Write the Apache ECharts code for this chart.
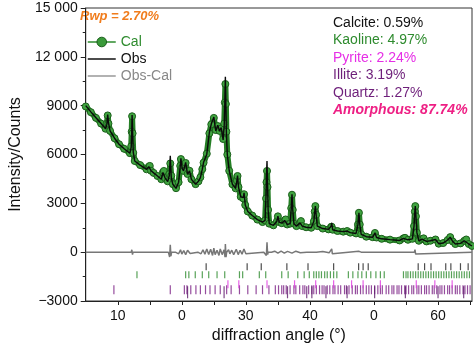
<!DOCTYPE html>
<html><head><meta charset="utf-8">
<script src="https://cdn.jsdelivr.net/npm/echarts@6/dist/echarts.min.js"></script>
<style>html,body{margin:0;padding:0;background:#fff}#c{width:474px;height:351px}</style>
</head><body><div id="c"></div>
<script>
// ---- data ----
const angles = [5.0,5.8,6.6,7.4,8.1,8.3,8.43,8.55,8.8,9.5,10.2,11.0,11.9,12.1,12.18,12.24,12.32,12.42,12.65,13.5,14.5,14.85,15.0,15.2,15.6,16.2,16.8,17.05,17.2,17.4,17.8,18.05,18.2,18.35,18.6,19.1,19.5,19.75,19.86,20.05,20.27,20.6,20.9,21.2,21.5,22.15,22.6,22.9,23.2,23.4,23.9,24.3,24.6,25.0,25.3,25.6,25.9,26.15,26.45,26.62,26.72,26.8,26.88,26.96,27.1,27.4,27.9,28.4,28.6,28.7,28.85,29.2,29.6,29.72,29.9,30.3,31.0,31.8,32.6,33.0,33.15,33.22,33.3,33.38,33.47,33.65,34.3,34.85,35.0,35.2,35.6,36.05,36.2,36.45,36.9,37.08,37.2,37.32,37.5,37.9,38.45,38.6,38.8,39.4,40.2,40.62,40.75,40.85,40.97,41.15,42.0,42.9,43.3,43.4,43.55,44.3,45.2,45.8,46.3,47.2,47.5,47.65,47.78,48.0,48.8,49.8,50.15,50.4,51.2,52.5,54.0,54.6,54.85,55.3,56.0,56.25,56.38,56.45,56.55,56.7,57.0,57.5,57.75,58.2,58.8,59.6,60.1,60.8,61.5,61.9,62.3,62.7,63.5,64.1,64.4,64.8,65.3];
const calValues = [8950,8600,8250,7900,7580,7900,8400,7900,7450,7000,6630,6350,6080,6500,7400,8350,7300,6100,5600,5350,5090,5250,5300,5000,4870,4680,4480,4900,4990,4550,4350,4800,5450,4700,4180,3930,4300,5300,5720,5200,4990,5480,4800,5000,4480,4180,4350,4600,5100,5500,6050,7300,7850,8250,7500,7750,7450,7600,6950,7900,9200,10330,9100,7400,6000,5000,4170,3920,4400,4680,4000,3400,3300,3560,2900,2500,2250,2000,1850,1950,3300,4300,4990,4000,2600,1750,1650,1900,2200,1850,1780,1950,2010,1700,1750,2700,3530,2600,1750,1600,1800,1910,1600,1530,1500,1900,2500,2830,2300,1600,1450,1400,1550,1560,1380,1300,1260,1300,1200,1150,1700,2420,1700,1100,950,920,1180,900,820,770,720,850,880,760,820,1600,2500,2830,2200,1200,700,800,850,660,700,780,520,560,750,925,650,500,540,700,780,500,380];
const obsValues = [9000,8620,8260,7900,7580,7850,8450,7950,7450,7000,6630,6350,6080,6450,7350,8420,7400,6150,5600,5350,5090,5250,5320,5000,4870,4680,4480,4900,5000,4550,4330,4700,5920,4600,4170,3920,4300,5250,5760,5150,5000,5520,4780,5000,4470,4170,4360,4580,5100,5520,6020,7350,7870,8300,7450,7800,7450,7650,6900,7800,9300,10780,9000,7300,6000,5000,4170,3920,4400,4700,4000,3400,3350,3650,2900,2500,2250,2000,1850,1950,3500,4800,5600,4300,2600,1750,1650,1900,2220,1850,1780,1950,2010,1700,1750,2650,3550,2600,1750,1600,1800,1910,1600,1530,1500,1900,2500,2830,2300,1600,1450,1400,1600,1800,1380,1300,1260,1300,1200,1150,1700,2420,1700,1100,950,920,1190,900,820,770,720,850,880,760,820,1600,2520,2830,2200,1200,700,800,850,660,700,780,520,560,750,925,650,500,540,700,780,500,380];
const diffAngles = [5,8.3,8.4,8.5,8.6,12.1,12.2,12.3,12.4,15,15.1,15.2,15.3,17.9,18.1,18.2,18.3,18.4,19.0,19.3,19.5,19.8,20.0,20.3,20.6,20.9,21.3,21.6,22.5,22.8,23.0,23.3,23.6,23.9,24.2,24.5,24.8,25.0,25.2,25.5,25.8,26.0,26.3,26.6,26.75,26.8,26.9,27.0,27.3,27.5,27.8,28.1,28.5,28.8,29.1,29.4,29.7,30.0,30.3,32.8,33.2,33.3,33.4,33.5,34.0,34.5,35.0,35.5,36.0,36.5,37.2,37.8,38.5,39.5,41,42,43,43.4,43.5,43.7,46,47.6,47.7,48,56.3,56.4,56.5,56.6,65.3];
const diffValues = [0,0,120,-100,0,0,150,-150,0,0,80,-60,0,0,-300,450,-250,0,0,120,-100,150,-120,100,-150,120,-80,0,0,120,-100,150,-120,200,-150,180,-200,250,-150,120,-200,200,-150,150,-300,500,-300,0,150,-100,120,-150,180,-150,120,-120,200,-100,0,0,-200,600,-150,0,0,60,-60,60,-60,50,-60,60,-40,0,0,40,-40,200,-100,0,0,60,-60,0,0,150,-120,0,0];
const calciteTicks = [23.8,30.2,32.4,36.4,39.7,43.7,47.6,48.3,49.1,56.9,57.9,58.9,61.2,62.0,63.5,64.7];
const kaolineTicks = [13.0,20.6,21.1,22.1,23.2,24.2,25.5,26.7,29.0,29.5,32.1,33.1,35.6,36.6,38.1,39.1,39.9,40.6,41.0,41.4,41.8,42.3,42.7,43.2,43.7,44.2,46.0,46.7,47.5,48.1,48.8,49.5,50.3,51.0,51.6,54.6,55.0,55.3,55.7,56.1,56.5,56.9,57.3,57.7,58.1,58.5,58.9,59.3,59.7,60.1,60.5,60.9,61.3,61.7,62.1,62.5,62.9,63.3,63.7,64.1,64.5,64.9];
const pyriteTicks = [27.2,28.9,33.3,37.6,40.9,43.7,46.5,48.3,51.0,56.6,59.5,62.2];
const illiteTicks = [9.4,18.2,20.4,20.8,21.4,22.2,22.9,23.7,24.4,25.2,26.0,27.0,27.7,29.0,30.3,31.6,32.6,33.6,34.6,35.1,35.6,35.9,36.3,36.9,37.5,37.8,38.4,38.9,39.2,39.8,40.3,40.6,41.0,41.5,41.9,42.2,42.7,43.1,43.6,43.9,44.4,44.8,45.4,45.7,46.1,46.6,47.1,47.4,47.9,48.3,48.8,49.2,49.6,50.1,50.6,51.0,51.3,51.9,52.3,52.8,53.1,53.6,53.9,54.3,54.8,55.0,55.4,55.9,56.2,56.7,57.0,57.4,57.9,58.2,58.6,59.1,59.4,59.8,60.3,60.6,61.0,61.5,61.8,62.2,62.7,63.0,63.4,63.9,64.2,64.6,65.0];
const quartzTicks = [20.9,26.6,36.5,39.5,40.3,42.5,45.8,50.1,54.9,60.0,64.0];
const xTickValues = [10,20,30,40,50,60];
const xTickLabels = ['10','0','30','40','0','60'];
const yTickValues = [-3000,0,3000,6000,9000,12000,15000];
const yTickLabels = ['\u22123000','0','3000','6000','9000','12 000','15 000'];
const phaseTexts = ['Calcite: 0.59%','Kaoline: 4.97%','Pyrite: 2.24%','Illite: 3.19%','Quartz: 1.27%','Amorphous: 87.74%'];
const phaseColors = ['#111111','#2e8b2e','#e62ee6','#6e1f7a','#6e1f7a','#ee1f84'];
const rwpText = 'Rwp = 2.70%';

// ---- build ----
const pair = (xs, ys) => xs.map((x,i)=>[x, ys[i]]);
const rowY = {calcite:-893, kaoline:-1386, pyrite:-1971, illite:-2310, quartz:-2464};
function tickSeries(name, xs, y, color, h){
  return {name:name, type:'scatter', data: xs.map(x=>[x,y]), symbol:'rect', symbolSize:[1.2,h],
    itemStyle:{color:color}, silent:true, z:3, animation:false};
}
const chart = echarts.init(document.getElementById('c'), null, {renderer:'canvas'});
const F = 'Liberation Sans, Arial, sans-serif';
const graphics = [{type:'text', left:80, top:10, style:{text:rwpText, font:'italic bold 13px '+F, fill:'#f07c1c'}}];
phaseTexts.forEach((t,i)=>{
  graphics.push({type:'text', left:333, top:16+i*17.5, style:{text:t, fill:phaseColors[i],
    font:(i===5?'italic bold 14px ':'14px ')+F}});
});
chart.setOption({
  animation:false,
  backgroundColor:'#ffffff',
  grid:{left:76, right:2, top:8, bottom:50, show:true, borderColor:'#333', borderWidth:1},
  xAxis:{type:'value', min:5, max:65.3, interval:5,
    name:'diffraction angle (°)', nameLocation:'middle', nameGap:26,
    nameTextStyle:{fontSize:16, color:'#111', fontFamily:F},
    axisLine:{onZero:false, lineStyle:{color:'#222'}}, axisTick:{length:4, lineStyle:{color:'#222'}},
    splitLine:{show:false},
    axisLabel:{fontSize:14, color:'#111', fontFamily:F, margin:8, showMaxLabel:false, showMinLabel:false,
      formatter:v=>{const i=xTickValues.indexOf(Math.round(v*100)/100);return i>=0?xTickLabels[i]:'';}}},
  yAxis:{type:'value', min:-3000, max:15000, interval:3000,
    name:'Intensity/Counts', nameLocation:'middle', nameGap:54,
    nameTextStyle:{fontSize:16, color:'#111', fontFamily:F},
    axisLine:{show:true, lineStyle:{color:'#222'}}, axisTick:{show:true, length:5, lineStyle:{color:'#222'}},
    minorTick:{show:true, splitNumber:2, length:3, lineStyle:{color:'#222'}},
    splitLine:{show:false},
    axisLabel:{fontSize:14, color:'#111', fontFamily:F, margin:8,
      formatter:v=>{const i=yTickValues.indexOf(v);return i>=0?yTickLabels[i]:'';}}},
  legend:{left:82, top:30, orient:'vertical', itemWidth:28, itemHeight:12, itemGap:3,
    textStyle:{fontSize:14, fontFamily:F},
    data:[{name:'Cal', textStyle:{color:'#2e8b2e'}, itemStyle:{color:'#3a9a3a', borderColor:'#1b5e1b', borderWidth:1}, lineStyle:{width:1.5, color:'#2e8b2e'}},
          {name:'Obs', textStyle:{color:'#111'}, itemStyle:{opacity:0}, lineStyle:{width:1.5, color:'#111'}},
          {name:'Obs-Cal', textStyle:{color:'#888'}, itemStyle:{opacity:0}, lineStyle:{width:1.5, color:'#999'}}]},
  graphic: graphics,
  series:[
    {name:'Cal', type:'line', data:pair(angles, calValues), symbol:'circle', symbolSize:7, showSymbol:true,
      lineStyle:{width:6, color:'#257f25'}, itemStyle:{color:'#3fa33f', borderColor:'#1b5e1b', borderWidth:1}, z:2},
    {name:'Obs', type:'line', data:pair(angles, obsValues), symbol:'none', lineStyle:{width:1.4, color:'#0a0a0a'}, itemStyle:{color:'#0a0a0a'}, z:4},
    {name:'Obs-Cal', type:'line', data:pair(diffAngles, diffValues), symbol:'none', lineStyle:{width:1.5, color:'#777777'}, itemStyle:{color:'#777777'}, z:5},
    tickSeries('calcite', calciteTicks, rowY.calcite, '#222', 7),
    tickSeries('kaoline', kaolineTicks, rowY.kaoline, '#2e8b2e', 7),
    tickSeries('illite', illiteTicks, rowY.illite, '#7a1f85', 9),
    tickSeries('quartz', quartzTicks, rowY.quartz, '#5e1a6a', 12),
    tickSeries('pyrite', pyriteTicks, rowY.pyrite, '#e03ae0', 8)
  ]
});
</script></body></html>
